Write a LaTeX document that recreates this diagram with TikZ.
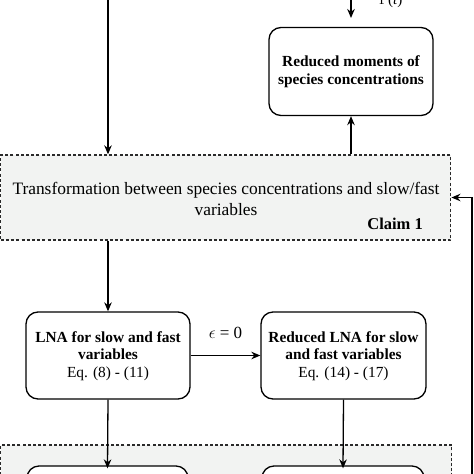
\documentclass[tikz,border=0pt]{standalone}
\usepackage{fontspec}
\setmainfont{Liberation Serif}
\usetikzlibrary{arrows.meta}
\definecolor{boxgray}{HTML}{F2F3F2}
\definecolor{dashgray}{HTML}{2A2A2A}
\tikzset{
  roundbox/.style={draw=black, line width=1.3pt, rounded corners=12pt, fill=white, align=center, inner sep=2pt,
    font=\fontsize{15.4}{17.6}\selectfont\bfseries},
  dashbox/.style={draw=dashgray, line width=1.3pt, dash pattern=on 3pt off 2.2pt, fill=boxgray, inner sep=0pt},
  arr/.style={line width=1.3pt, -{Stealth[length=9pt,width=7.5pt]}},
  txt/.style={font=\fontsize{17.4}{20.5}\selectfont, align=center}
}
\begin{document}
\begin{tikzpicture}[x=1pt,y=-1pt]
\useasboundingbox (0,0) rectangle (474,474);
\clip (0,0) rectangle (474,474);
\fill[white] (0,0) rectangle (474,474);
% dashed containers
\node[dashbox, minimum width=450pt, minimum height=85pt] (trans) at (225.8,197.5) {};
\node[txt] (transtxt) at (226,199) {Transformation between species concentrations and slow/fast\\variables};
\node[font=\fontsize{16.5}{19}\selectfont\bfseries, anchor=base east, inner sep=0pt] (claim) at (423,229) {Claim 1};
\node[dashbox, minimum width=451pt, minimum height=90pt] (bottom) at (226.3,490) {};
% boxes
\node[roundbox, minimum width=164pt, minimum height=88pt] (rm) at (351,71.5) {Reduced moments of\\species concentrations};
\node[roundbox, minimum width=164pt, minimum height=87pt] (lna) at (108,355.5) {\rule{0pt}{12pt}LNA for slow and fast\\variables\\\normalfont Eq. (8) - (11)};
\node[roundbox, minimum width=165pt, minimum height=87pt] (rlna) at (343.5,355.5) {\rule{0pt}{12pt}Reduced LNA for slow\\and fast variables\\\normalfont Eq. (14) - (17)};
\node[roundbox, minimum width=161pt, minimum height=80pt] (bl) at (107.5,506) {};
\node[roundbox, minimum width=162pt, minimum height=80pt] (br) at (343,506) {};
% top label partly cut, as in the reference
\node[font=\fontsize{15}{18}\selectfont, anchor=base west, inner sep=0pt] (gam) at (379,4) {$\Gamma$(\textit{t})};
% connectors
\coordinate (tl) at (108,-3);
\coordinate (tr) at (351,-3);
\coordinate (trend) at (351,18);
\coordinate (fbbot) at (472,480);
\coordinate (fbtop) at (472,197.5);
\draw[arr] (tl) -- (tl |- trans.north);
\draw[arr] (tr) -- (trend);
\draw[arr] (rm.south |- trans.north) -- (rm.south);
\draw[arr] (lna.north |- trans.south) -- (lna.north);
\draw[arr] (fbbot) -- (fbtop) -- (trans.east);
\draw[arr] (lna.east) -- node[above=13pt, font=\fontsize{17}{20}\selectfont] (eps) {$\epsilon$ = 0} (rlna.west);
\draw[arr] (lna.south) -- ([yshift=-3pt]bl.north);
\draw[arr] (rlna.south) -- ([yshift=-3pt]br.north);
\end{tikzpicture}
\end{document}
